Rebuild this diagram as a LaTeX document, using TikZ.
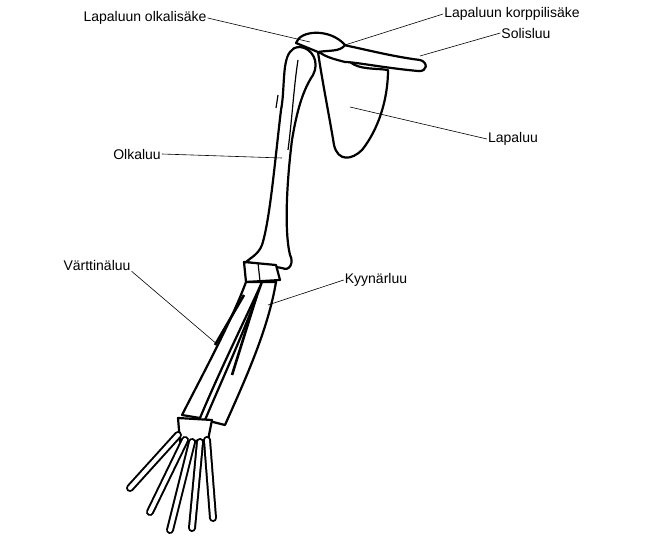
\documentclass[tikz,border=0pt]{standalone}
\usepackage{fontspec}
\setmainfont{Liberation Sans}
\begin{document}
\begin{tikzpicture}[x=1pt,y=-1pt,
  bone/.style={draw=black,line width=2.2pt,fill=white,line join=round},
  thin/.style={draw=black,line width=1.2pt},
  lbl/.style={font=\fontsize{14}{16}\selectfont,inner sep=1pt},
  ptr/.style={draw=black,line width=0.6pt}]
\useasboundingbox (0,0) rectangle (654,548);
% scapula
\path[bone] (318,52) .. controls (322,80) and (330,120) .. (334,145) .. controls (338,162) and (352,160) .. (362,150) .. controls (378,130) and (388,100) .. (388,70) .. controls (375,68) and (360,70) .. (350,62) -- cycle;
% clavicle
\path[bone] (312,40) .. controls (340,42) and (380,55) .. (420,60) .. controls (428,62) and (428,72) .. (418,71) .. controls (385,68) and (355,62) .. (345,62) .. controls (330,58) and (315,55) .. (312,40);
\path[bone] (296,43) .. controls (300,30) and (330,28) .. (345,45) .. controls (340,52) and (330,50) .. (318,52) -- cycle;
% humerus
\path[bone] (290,52) .. controls (282,62) and (285,90) .. (281,110) .. controls (275,160) and (270,220) .. (262,245) .. controls (258,255) and (250,258) .. (246,262) -- (282,268) .. controls (290,272) and (294,262) .. (290,255) .. controls (284,230) and (287,180) .. (292,140) .. controls (297,110) and (303,90) .. (313,75) .. controls (320,62) and (312,48) .. (300,47) .. controls (295,47) and (292,49) .. (290,52) -- cycle;
\draw[thin] (298,60) .. controls (294,85) and (292,120) .. (288,150);
\draw[thin] (278,95) -- (276,108);
% elbow
\path[bone] (244,262) -- (276,265) -- (280,280) -- (246,282) -- cycle;
\draw[thin] (258,263) -- (260,281);
% forearm
\path[bone] (246,282) .. controls (232,320) and (205,370) .. (182,415) -- (200,418) .. controls (220,370) and (245,320) .. (262,282) -- cycle;
\path[bone] (262,282) -- (276,282) .. controls (268,330) and (245,380) .. (225,425) -- (205,420) .. controls (222,380) and (245,330) .. (262,282);
\draw[line width=2.6pt] (244,295) -- (215,345);
\draw[line width=2.6pt] (257,295) -- (232,375);
% hand
\path[bone] (178,418) -- (212,420) -- (208,440) -- (180,442) -- cycle;
\foreach \a/\b in {{(178,435)}/{(130,488)},{(185,440)}/{(150,512)},{(192,442)}/{(170,530)},{(200,442)}/{(192,528)},{(207,440)}/{(213,518)}}{
  \draw[line width=8pt,line cap=round] \a -- \b;
  \draw[line width=4pt,white,line cap=round] \a -- \b;
}
% labels
\node[lbl] (t1) at (145,18) {Lapaluun olkalisäke};
\node[lbl] (t2) at (512,14) {Lapaluun korppilisäke};
\node[lbl] (t3) at (526,33) {Solisluu};
\node[lbl] (t4) at (513,139) {Lapaluu};
\node[lbl] (t5) at (137,154) {Olkaluu};
\node[lbl] (t6) at (97,265) {Värttinäluu};
\node[lbl] (t7) at (376,280) {Kyynärluu};
\coordinate (p1) at (310,42); \coordinate (p2) at (345,45);
\coordinate (p3) at (420,56); \coordinate (p4) at (350,107);
\coordinate (p5) at (282,158); \coordinate (p6) at (218,345);
\coordinate (p7) at (268,305);
\draw[ptr] (t1.east) -- (p1); \draw[ptr] (t2.west) -- (p2);
\draw[ptr] (t3.west) -- (p3); \draw[ptr] (t4.west) -- (p4);
\draw[ptr] (t5.east) -- (p5); \draw[ptr] (t6.south east) -- (p6);
\draw[ptr] (t7.west) -- (p7);
\end{tikzpicture}
\end{document}
